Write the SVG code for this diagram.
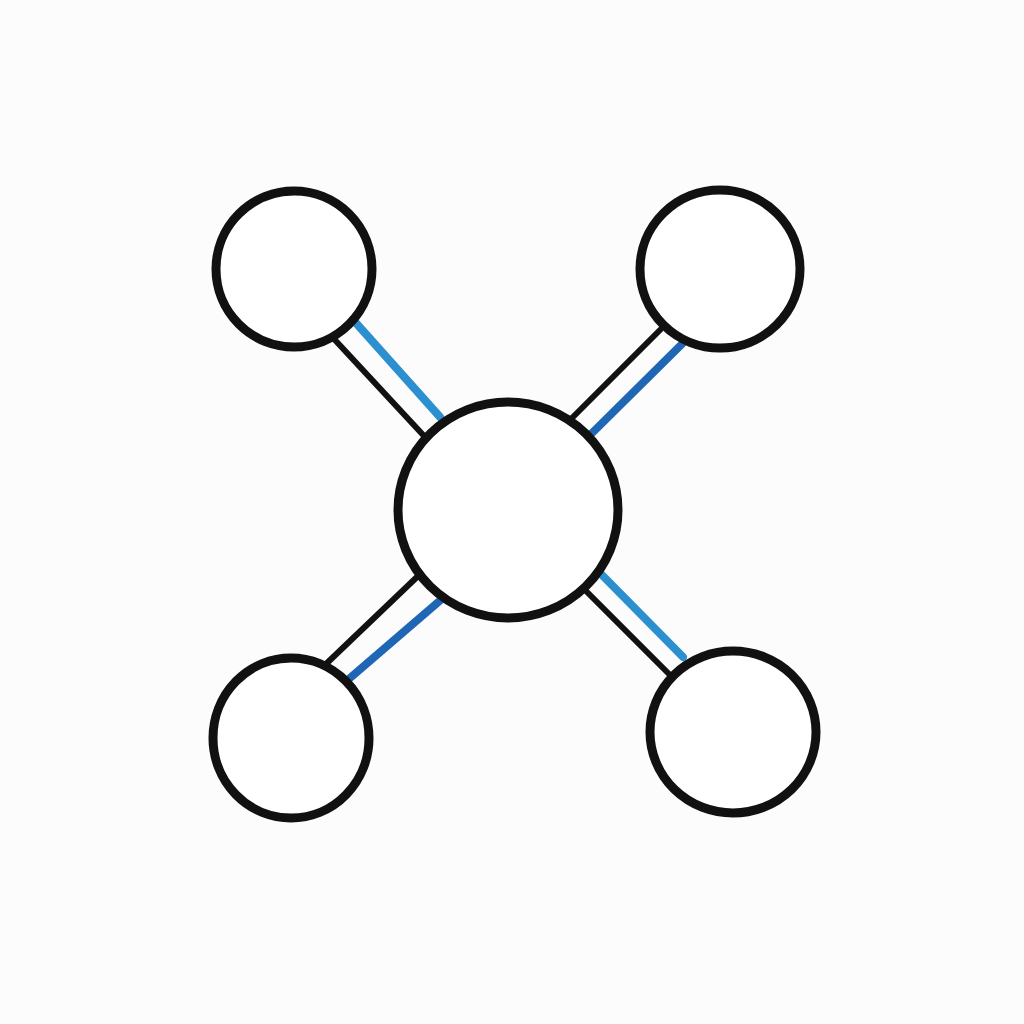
<svg xmlns="http://www.w3.org/2000/svg" width="1024" height="1024" viewBox="0 0 1024 1024">
<style>
.node{fill:#ffffff;stroke:#111111;stroke-width:9}
.bk{stroke:#111111;stroke-width:6;stroke-linecap:round}
.bl{stroke:#2b8fd0;stroke-width:8;stroke-linecap:round}
.bd{stroke:#1f66b5;stroke-width:8;stroke-linecap:round}
</style>
<rect width="1024" height="1024" fill="#fbfcfb"/>
<g id="connectors">
<line class="bk" x1="335" y1="340" x2="425" y2="437"/>
<line class="bl" x1="356" y1="323" x2="440" y2="417"/>
<line class="bk" x1="660" y1="330" x2="572" y2="418"/>
<line class="bd" x1="683" y1="343" x2="582" y2="443"/>
<line class="bk" x1="417" y1="577" x2="327" y2="663"/>
<line class="bd" x1="443" y1="598" x2="350" y2="678"/>
<line class="bk" x1="587" y1="592" x2="670" y2="675"/>
<line class="bl" x1="602" y1="575" x2="683" y2="657"/>
</g>
<g id="node-center"><ellipse class="node" cx="508" cy="510" rx="110" ry="108"/></g>
<g id="node-tl"><ellipse class="node" cx="294" cy="269" rx="78" ry="78"/></g>
<g id="node-tr"><ellipse class="node" cx="720" cy="269" rx="80" ry="79"/></g>
<g id="node-bl"><ellipse class="node" cx="291" cy="738" rx="78" ry="80"/></g>
<g id="node-br"><ellipse class="node" cx="733" cy="732" rx="83" ry="81"/></g>
</svg>
